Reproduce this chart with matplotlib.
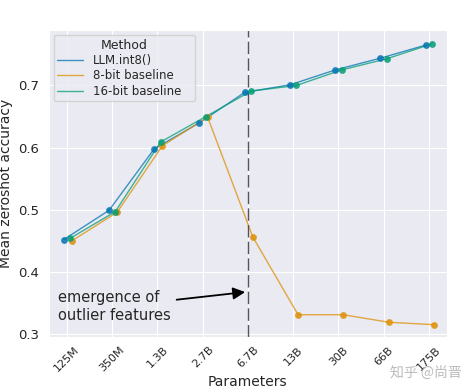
import numpy as np
import matplotlib
matplotlib.use("Agg")
import matplotlib.pyplot as plt
import seaborn as sns

sizes = ["125M", "350M", "1.3B", "2.7B", "6.7B", "13B", "30B", "66B", "175B"]
llm_int8 = [0.452, 0.499, 0.598, 0.640, 0.689, 0.701, 0.725, 0.744, 0.765]
baseline_8bit = [0.450, 0.496, 0.603, 0.649, 0.456, 0.331, 0.331, 0.319, 0.315]
baseline_16bit = [0.454, 0.497, 0.609, 0.650, 0.691, 0.700, 0.725, 0.743, 0.767]

series = [
    ("LLM.int8()", llm_int8, "#0173b2", -0.07),
    ("8-bit baseline", baseline_8bit, "#de8f05", 0.11),
    ("16-bit baseline", baseline_16bit, "#029e73", 0.07),
]

sns.set_style("darkgrid")
plt.rcParams['font.family'] = ['DejaVu Sans', 'Noto Sans CJK SC']

fig = plt.figure(figsize=(4.74, 3.92), dpi=100)
ax = fig.add_axes([0.103, 0.14, 0.84, 0.783])

x = np.arange(len(sizes))
for name, vals, col, off in series:
    ax.plot(x + off, vals, color=col, lw=1.0, alpha=0.75, label=name)
    ax.scatter(x + off, vals, color=col, s=24, alpha=0.85, zorder=3, linewidths=0)

ax.axvline(4, color="#555555", lw=1.0, ls=(0, (9, 3)))
ax.annotate("emergence of\noutlier features", xy=(4.0, 0.368), xytext=(-0.2, 0.344),
            fontsize=10.5, va="center", ha="left",
            arrowprops=dict(arrowstyle="-|>", color="black", lw=1.3, mutation_scale=18))

ax.set_xlim(-0.4, 8.4)
ax.set_ylim(0.295, 0.789)
ax.set_yticks([0.3, 0.4, 0.5, 0.6, 0.7])
ax.set_xticks(x)
ax.set_xticklabels(sizes, rotation=45, fontsize=8)
ax.tick_params(axis="y", labelsize=9.5)
ax.tick_params(axis="x", pad=2)
ax.set_xlabel("Parameters", fontsize=10, labelpad=1)
ax.set_ylabel("Mean zeroshot accuracy", fontsize=10)

leg = ax.legend(title="Method", loc="upper left", bbox_to_anchor=(0.012, 0.5, 0.355, 0.484),
                mode="expand", fontsize=8.5, title_fontsize=9, borderaxespad=0,
                handlelength=2.2, labelspacing=0.2, borderpad=0.3)

fig.text(0.975, 0.03, "知乎 @尚晋", ha="right", va="bottom", fontsize=10,
         color="#bbbbbb", family=['Noto Sans CJK SC', 'DejaVu Sans'])

fig.savefig("out.png", dpi=100)
